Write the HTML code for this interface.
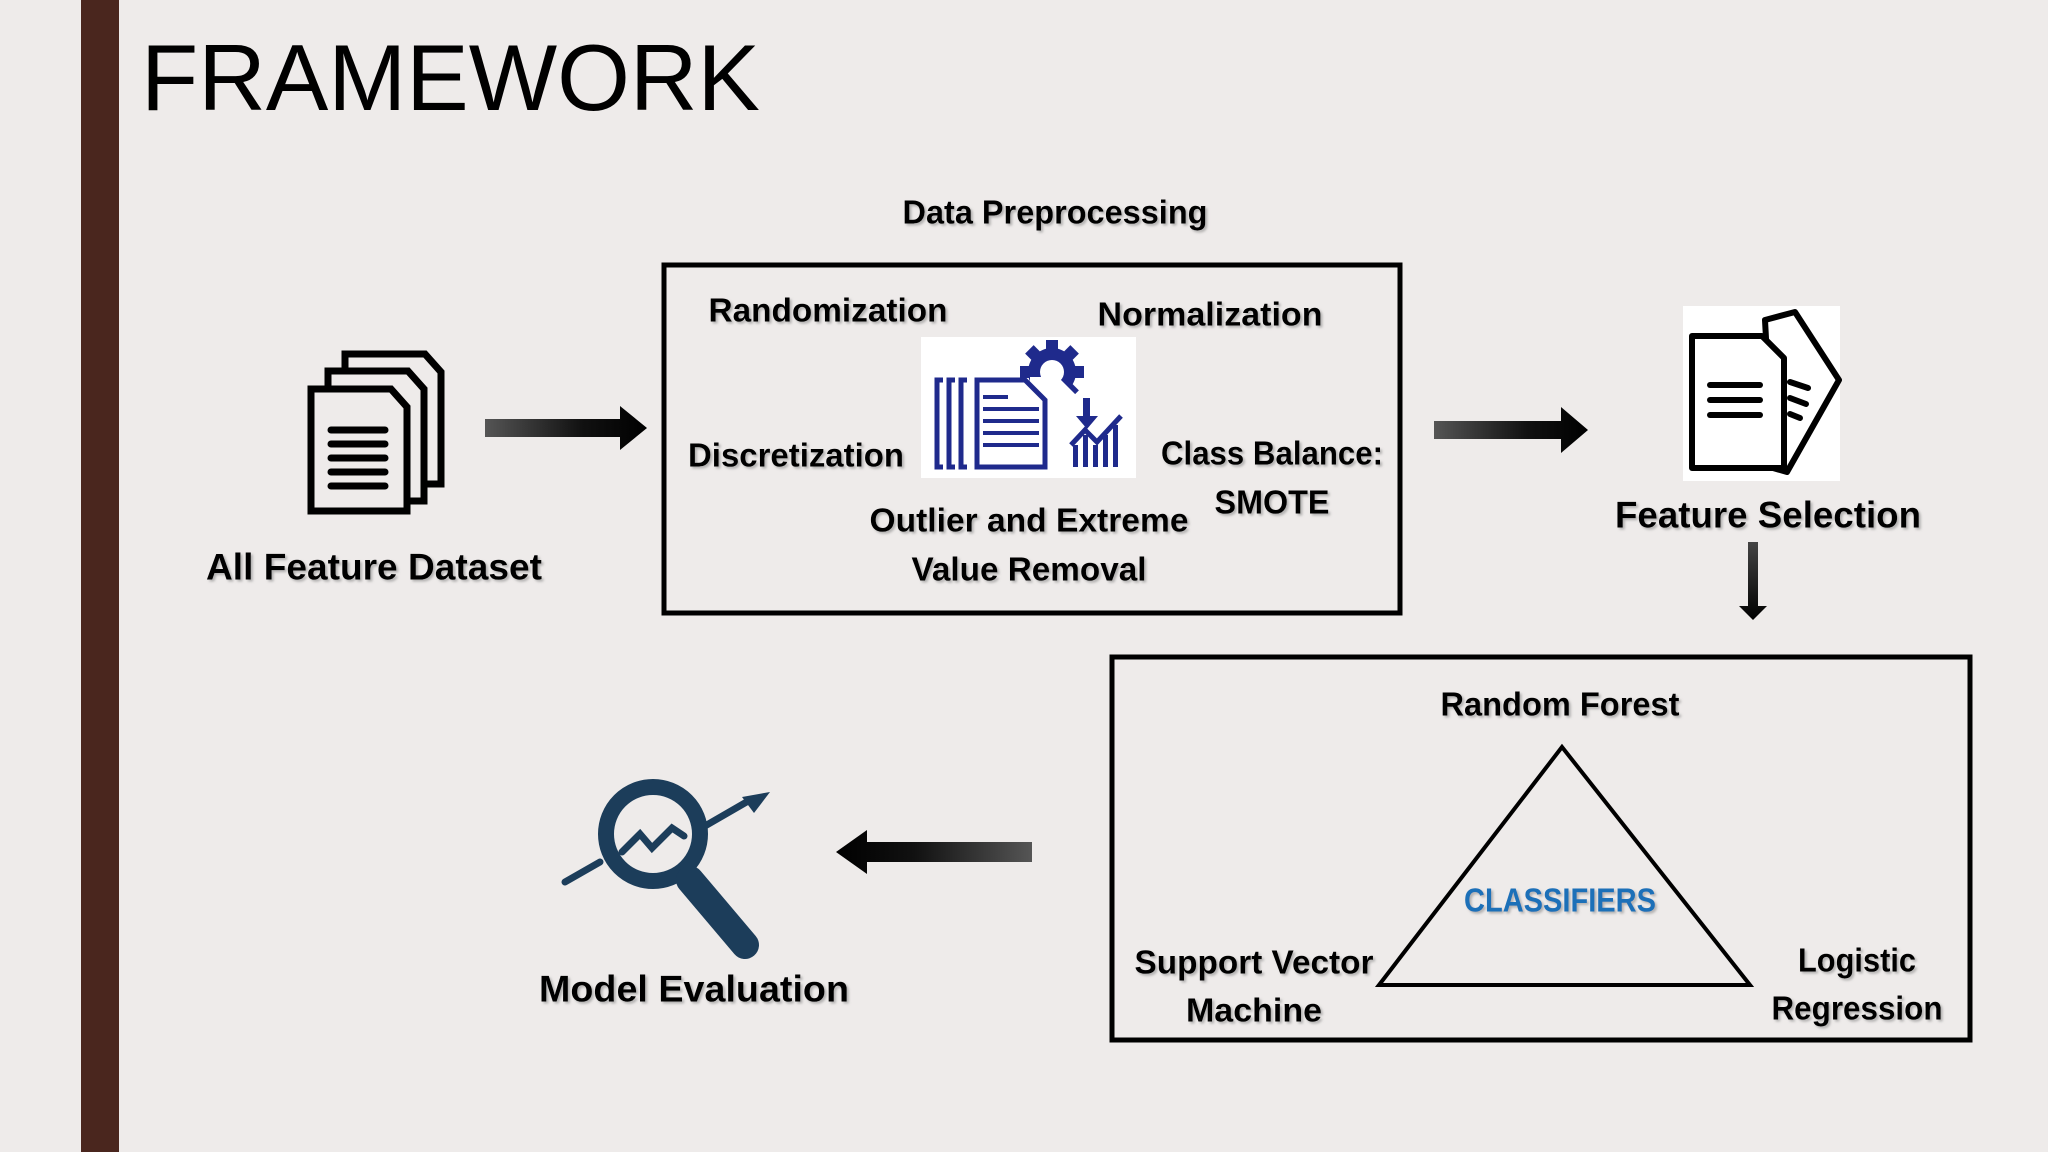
<!DOCTYPE html>
<html><head><meta charset="utf-8"><style>
html,body{margin:0;padding:0;background:#eeebea;}
svg{display:block}
.t{font-family:"Liberation Sans",sans-serif;font-weight:bold;fill:#000;dominant-baseline:central;text-anchor:middle;filter:url(#sh)}
</style></head><body>
<svg width="2048" height="1152" viewBox="0 0 2048 1152" xmlns="http://www.w3.org/2000/svg">
<defs>
<filter id="sh" x="-5%" y="-20%" width="110%" height="150%"><feDropShadow dx="2" dy="2" stdDeviation="1.2" flood-color="#888" flood-opacity="0.6"/></filter>
<linearGradient id="gr" x1="0" x2="1" y1="0" y2="0"><stop offset="0" stop-color="#555"/><stop offset="0.6" stop-color="#111"/><stop offset="1" stop-color="#000"/></linearGradient>
<linearGradient id="gl" x1="1" x2="0" y1="0" y2="0"><stop offset="0" stop-color="#555"/><stop offset="0.6" stop-color="#111"/><stop offset="1" stop-color="#000"/></linearGradient>
<linearGradient id="gd" x1="0" x2="0" y1="0" y2="1"><stop offset="0" stop-color="#444"/><stop offset="1" stop-color="#000"/></linearGradient>
</defs>
<rect width="2048" height="1152" fill="#eeebea"/>
<rect x="81" y="0" width="38" height="1152" fill="#4a261e"/>
<text x="141" y="110" font-family="Liberation Sans,sans-serif" font-size="94" fill="#000" textLength="619" lengthAdjust="spacingAndGlyphs">FRAMEWORK</text>

<text class="t" x="1055" y="212" font-size="33" textLength="305" lengthAdjust="spacingAndGlyphs">Data Preprocessing</text>
<rect x="664" y="265" width="736" height="348" fill="none" stroke="#000" stroke-width="5"/>
<text class="t" x="828" y="310" font-size="33" textLength="239" lengthAdjust="spacingAndGlyphs">Randomization</text>
<text class="t" x="1210" y="314" font-size="33" textLength="225" lengthAdjust="spacingAndGlyphs">Normalization</text>
<text class="t" x="796" y="455" font-size="33" textLength="216" lengthAdjust="spacingAndGlyphs">Discretization</text>
<text class="t" x="1272" y="453" font-size="33" textLength="222" lengthAdjust="spacingAndGlyphs">Class Balance:</text>
<text class="t" x="1272" y="502" font-size="33" textLength="115" lengthAdjust="spacingAndGlyphs">SMOTE</text>
<text class="t" x="1029" y="520" font-size="33" textLength="319" lengthAdjust="spacingAndGlyphs">Outlier and Extreme</text>
<text class="t" x="1029" y="569" font-size="33" textLength="235" lengthAdjust="spacingAndGlyphs">Value Removal</text>

<!-- preprocessing icon -->
<rect x="921" y="337" width="215" height="141" fill="#fff"/>
<g fill="#1f2a8c">
<circle cx="1052" cy="372" r="24"/>
<g transform="translate(1052 372)">
<rect x="-6" y="-32" width="12" height="12"/>
<rect x="-6" y="-32" width="12" height="12" transform="rotate(45)"/>
<rect x="-6" y="-32" width="12" height="12" transform="rotate(90)"/>
<rect x="-6" y="-32" width="12" height="12" transform="rotate(135)"/>
<rect x="-6" y="-32" width="12" height="12" transform="rotate(180)"/>
<rect x="-6" y="-32" width="12" height="12" transform="rotate(225)"/>
<rect x="-6" y="-32" width="12" height="12" transform="rotate(270)"/>
<rect x="-6" y="-32" width="12" height="12" transform="rotate(315)"/>
</g>
</g>
<circle cx="1052" cy="372" r="12" fill="#fff"/>
<path d="M1030 377 h28 l18 18 v30 h-46 z" fill="#fff"/>
<g fill="none" stroke="#1f2a8c" stroke-width="5">
<path d="M943 380 h-6 v87 h6"/><path d="M955 380 h-6 v87 h6"/><path d="M967 380 h-6 v87 h6"/>
<path d="M977 380 h48 l20 20 v67 h-68 z" fill="#fff"/>
</g>
<g fill="#1f2a8c">
<rect x="983" y="395" width="25" height="4"/>
<rect x="983" y="407" width="56" height="4"/><rect x="983" y="419" width="56" height="4"/>
<rect x="983" y="431" width="56" height="4"/><rect x="983" y="443" width="56" height="4"/>
<path d="M1083 398 h7 v18 h8 l-11 13 -11-13 h7 z"/>
<rect x="1073" y="445" width="5" height="22"/><rect x="1083" y="435" width="5" height="32"/><rect x="1093" y="445" width="5" height="22"/><rect x="1103" y="435" width="5" height="32"/><rect x="1113" y="425" width="5" height="42"/>
</g>
<path d="M1071 445 l14-15 12 12 24-26" fill="none" stroke="#1f2a8c" stroke-width="5"/>

<!-- doc stack -->
<g fill="#eeebea" stroke="#000" stroke-width="7">
<path d="M345 354 h80 l16 18 v112 h-96 z"/>
<path d="M328 371 h80 l16 18 v112 h-96 z"/>
<path d="M311 389 h80 l16 18 v104 h-96 z"/>
</g>
<g stroke="#000" stroke-width="7" stroke-linecap="round">
<line x1="331" y1="430" x2="385" y2="430"/><line x1="331" y1="444" x2="385" y2="444"/><line x1="331" y1="458" x2="385" y2="458"/><line x1="331" y1="472" x2="385" y2="472"/><line x1="331" y1="486" x2="385" y2="486"/>
</g>
<text class="t" x="374" y="567" font-size="37" textLength="336" lengthAdjust="spacingAndGlyphs">All Feature Dataset</text>

<!-- arrows -->
<path d="M485 419 h135 v-13 l27 22 -27 22 v-13 h-135 z" fill="url(#gr)"/>
<path d="M1434 421 h127 v-14 l27 23 -27 23 v-14 h-127 z" fill="url(#gr)"/>
<path d="M1748 542 h10 v64 h9 l-14 14 -14-14 h9 z" fill="url(#gd)"/>
<path d="M1032 842 h-165 v-12 l-31 22 31 22 v-12 h165 z" fill="url(#gl)"/>

<!-- feature selection icon -->
<rect x="1683" y="306" width="157" height="175" fill="#fff"/>
<g fill="#fff" stroke="#000" stroke-width="6" stroke-linejoin="round">
<path d="M1765 320 l30 -8 44 68 -52 92 -14 -4 z"/>
<path d="M1692 336 h70 l22 22 v110 h-92 z"/>
</g>
<g stroke="#000" stroke-width="6" stroke-linecap="round">
<line x1="1710" y1="385" x2="1760" y2="385"/><line x1="1710" y1="400" x2="1760" y2="400"/><line x1="1710" y1="415" x2="1760" y2="415"/>
<line x1="1790" y1="382" x2="1808" y2="388"/><line x1="1790" y1="398" x2="1806" y2="404"/><line x1="1790" y1="414" x2="1800" y2="418"/>
</g>
<text class="t" x="1768" y="515" font-size="37" textLength="306" lengthAdjust="spacingAndGlyphs">Feature Selection</text>

<!-- classifiers -->
<rect x="1112" y="657" width="858" height="383" fill="none" stroke="#000" stroke-width="5"/>
<text class="t" x="1560" y="704" font-size="33" textLength="239" lengthAdjust="spacingAndGlyphs">Random Forest</text>
<path d="M1562 747 L1379 985 L1750 985 Z" fill="none" stroke="#000" stroke-width="4"/>
<text class="t" x="1560" y="900" font-size="33" style="fill:#1f6fb8" textLength="192" lengthAdjust="spacingAndGlyphs">CLASSIFIERS</text>
<text class="t" x="1254" y="962" font-size="33" textLength="239" lengthAdjust="spacingAndGlyphs">Support Vector</text>
<text class="t" x="1254" y="1010" font-size="33" textLength="136" lengthAdjust="spacingAndGlyphs">Machine</text>
<text class="t" x="1857" y="960" font-size="33" textLength="118" lengthAdjust="spacingAndGlyphs">Logistic</text>
<text class="t" x="1857" y="1008" font-size="33" textLength="171" lengthAdjust="spacingAndGlyphs">Regression</text>

<!-- model evaluation icon -->
<g stroke="#1c3d5a" fill="none" stroke-linecap="round">
<line x1="565" y1="882" x2="600" y2="862" stroke-width="7"/>
<line x1="705" y1="826" x2="750" y2="800" stroke-width="7"/>
<circle cx="653" cy="834" r="47" stroke-width="16"/>
<line x1="690" y1="880" x2="745" y2="945" stroke-width="28"/>
<path d="M622 852 l18 -18 12 14 20 -20 12 8" stroke-width="7"/>
</g>
<path d="M770 792 l-28 5 12 16 z" fill="#1c3d5a"/>
<text class="t" x="694" y="989" font-size="37" textLength="310" lengthAdjust="spacingAndGlyphs">Model Evaluation</text>
</svg>
</body></html>
